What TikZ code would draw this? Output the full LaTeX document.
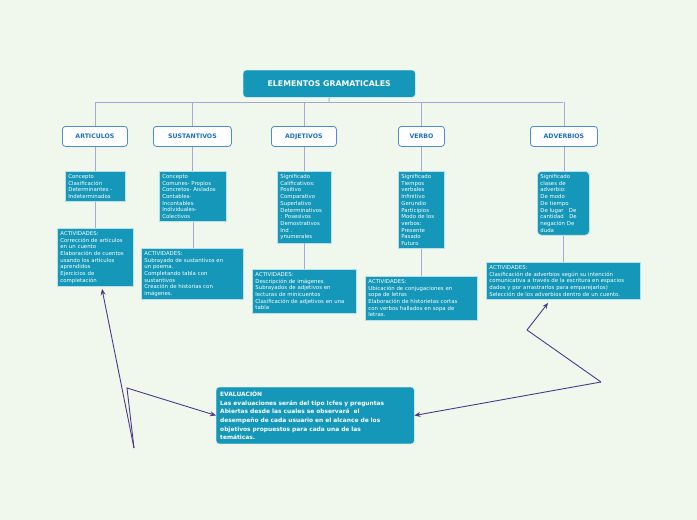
\documentclass[tikz,border=0pt]{standalone}
\usepackage{fontspec}
\setmainfont{DejaVu Sans}
\usetikzlibrary{arrows.meta}
\definecolor{bg}{HTML}{F0F7EC}
\definecolor{bx}{HTML}{1497B8}
\definecolor{ln}{HTML}{A9A6D8}
\definecolor{ar}{HTML}{4B3A8C}
\definecolor{cat}{HTML}{1E6FC8}
\tikzset{
 box/.style={fill=bx,draw=white!70!bx,line width=0.8pt,text=white,font=\fontsize{5.4}{6.7}\selectfont,align=left,inner sep=3pt,anchor=north west,text width=#1},
 catb/.style={fill=white,draw=cat!80,line width=0.8pt,rounded corners=3pt,text=cat,font=\bfseries\fontsize{6.2}{7}\selectfont,minimum height=20pt,anchor=north west,minimum width=#1},
 conn/.style={ln,line width=0.8pt},
 arr/.style={ar,line width=0.9pt,-{Stealth[length=6pt,width=5pt]}}
}
\begin{document}
\begin{tikzpicture}[x=1pt,y=-1pt]
\fill[bg] (0,0) rectangle (697,520);
\useasboundingbox (0,0) rectangle (697,520);
\node[fill=bx,rounded corners=3pt,draw=white!70!bx,text=white,font=\bfseries\fontsize{7.8}{8}\selectfont,minimum width=172pt,minimum height=27pt,anchor=north west] (title) at (243,70) {ELEMENTOS GRAMATICALES};
\node[catb=65pt] (c1) at (62,126) {ARTICULOS};
\node[catb=78pt] (c2) at (153,126) {SUSTANTIVOS};
\node[catb=65pt] (c3) at (271,126) {ADJETIVOS};
\node[catb=46pt] (c4) at (398,126) {VERBO};
\node[catb=67pt] (c5) at (530,126) {ADVERBIOS};
\draw[conn] (title.south) -- (329,102);
\draw[conn] (95,102) -- (563,102);
\foreach \c in {c1,c2,c3,c4,c5} \draw[conn] (\c.north) -- (\c.north |- 0,102);
\node[box=54pt] (d1) at (65,171) {Concepto\\Clasificación\\Determinantes -\\Indeterminados};
\node[box=61pt] (d2) at (159,171) {Concepto\\Comunes- Propios\\Concretos- Aislados\\Contables-\\Incontables\\Individuales-\\Colectivos};
\node[box=48pt] (d3) at (277,171) {Significado\\Calificativos:\\Positivo\\Comparativo\\Superlativo\\Determinativos\\: Posesivos\\Demostrativos\\Ind .\\ynumerales};
\node[box=40pt] (d4) at (398,171) {Significado\\Tiempos\\verbales\\Infinitivo\\Gerundio\\Participios\\Modo de los\\verbos:\\Presente\\Pasado\\Futuro};
\node[box=46pt,rounded corners=4pt] (d5) at (537,171) {Significado\\clases de\\adverbio:\\De modo\\De tiempo\\De lugar\quad De\\cantidad\quad De\\negación De\\duda};
\node[box=70pt] (a1) at (57,228) {ACTIVIDADES:\\Corrección de artículos\\en un cuento\\Elaboración de cuentos\\usando los artículos\\aprendidos\\Ejercicios de\\completación};
\node[box=96pt] (a2) at (141,248) {ACTIVIDADES:\\Subrayado de sustantivos en\\un poema.\\Completando tabla con\\sustantivos\\Creación de historias con\\imágenes.};
\node[box=98pt] (a3) at (252,269) {ACTIVIDADES:\\Descripción de imágenes\\Subrayados de adjetivos en\\lecturas de minicuentos\\Clasificación de adjetivos en una\\tabla};
\node[box=106pt] (a4) at (365,276) {ACTIVIDADES:\\Ubicación de conjugaciones en\\sopa de letras\\Elaboración de historietas cortas\\con verbos hallados en sopa de\\letras.};
\node[box=148pt] (a5) at (486,262) {ACTIVIDADES:\\Clasificación de adverbios según su intención\\comunicativa a través de la escritura en espacios\\dados y por arrastrarlos para emparejarlos)\\Selección de los adverbios dentro de un cuento.};
\foreach \i in {1,...,5} {
 \draw[conn] (c\i.south) -- (c\i.south |- d\i.north);
 \draw[conn] (d\i.south) -- (d\i.south |- a\i.north);
}
\node[fill=bx,rounded corners=3pt,draw=white!70!bx,text=white,font=\bfseries\fontsize{5.9}{8.6}\selectfont,align=left,text width=190pt,inner sep=4pt,anchor=north west] (ev) at (216,387) {EVALUACIÓN\\Las evaluaciones serán del tipo Icfes y preguntas\\Abiertas desde las cuales se observará \ el\\desempeño de cada usuario en el alcance de los\\objetivos propuestos para cada una de las\\temáticas.};
\coordinate (p1) at (134,448);
\coordinate (p2) at (127,388);
\coordinate (q1) at (601,382);
\coordinate (q2) at (527,330);
\draw[arr] (p1) -- (102,289);
\draw[arr] (p1) -- (p2) -- (ev.west);
\draw[arr] (q1) -- (q2) -- (548,303);
\draw[arr] (q1) -- (ev.east);
\end{tikzpicture}
\end{document}
